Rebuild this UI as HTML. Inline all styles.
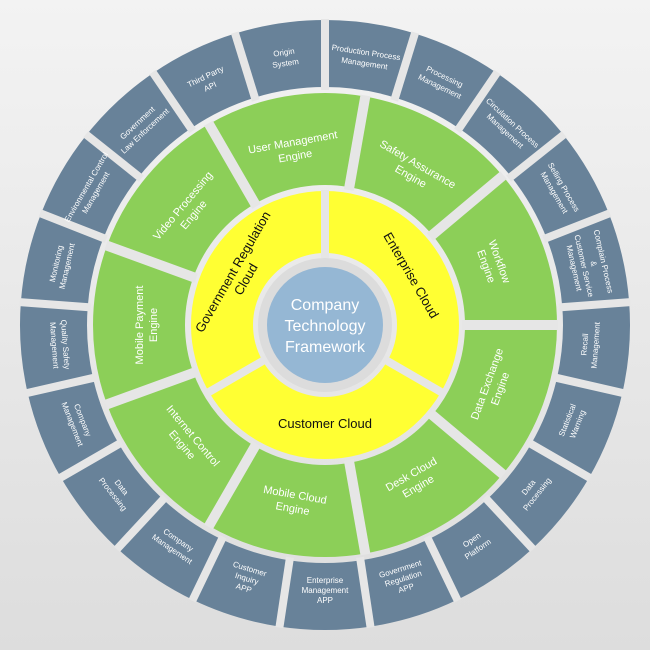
<!DOCTYPE html>
<html><head><meta charset="utf-8"><style>
html,body{margin:0;padding:0;width:650px;height:650px;overflow:hidden;background:linear-gradient(#f3f3f3,#dddddd);}
svg{display:block}
.o{font-family:"Liberation Sans",sans-serif;font-size:8px;fill:#fff;text-anchor:middle}
.g{font-family:"Liberation Sans",sans-serif;font-size:11px;fill:#fff;text-anchor:middle}
.y{font-family:"Liberation Sans",sans-serif;font-size:13px;fill:#111;text-anchor:middle}
</style></head><body>
<svg width="650" height="650" viewBox="0 0 650 650">
<defs>
<path id="ob" d="M279.55,23.4 A305,305 0 0 1 370.45,23.4 L360.47,89.67 A238,238 0 0 0 289.53,89.67 Z" fill="#688299"/>
<path id="gb" d="M245.65,107 A232,232 0 0 1 404.35,107 L372.88,193.44 A140,140 0 0 0 277.12,193.44 Z" fill="#8ccf58"/>
<path id="yb" d="M208.95,258 A134,134 0 0 1 441.05,258 L387.35,289 A72,72 0 0 0 262.65,289 Z" fill="#ffff33"/>
</defs>
<g>
<use href="#ob" transform="rotate(-8.57 325 325)"/><use href="#ob" transform="rotate(8.57 325 325)"/><use href="#ob" transform="rotate(25.71 325 325)"/><use href="#ob" transform="rotate(42.86 325 325)"/><use href="#ob" transform="rotate(60 325 325)"/><use href="#ob" transform="rotate(77.14 325 325)"/><use href="#ob" transform="rotate(94.29 325 325)"/><use href="#ob" transform="rotate(111.43 325 325)"/><use href="#ob" transform="rotate(128.57 325 325)"/><use href="#ob" transform="rotate(145.71 325 325)"/><use href="#ob" transform="rotate(162.86 325 325)"/><use href="#ob" transform="rotate(180 325 325)"/><use href="#ob" transform="rotate(197.14 325 325)"/><use href="#ob" transform="rotate(214.29 325 325)"/><use href="#ob" transform="rotate(231.43 325 325)"/><use href="#ob" transform="rotate(248.57 325 325)"/><use href="#ob" transform="rotate(265.71 325 325)"/><use href="#ob" transform="rotate(282.86 325 325)"/><use href="#ob" transform="rotate(300 325 325)"/><use href="#ob" transform="rotate(317.14 325 325)"/><use href="#ob" transform="rotate(334.29 325 325)"/>
</g>
<g stroke="#e6e6e6" stroke-width="8">
<line x1="325" y1="90" x2="325" y2="19" transform="rotate(0 325 325)"/><line x1="325" y1="90" x2="325" y2="19" transform="rotate(17.14 325 325)"/><line x1="325" y1="90" x2="325" y2="19" transform="rotate(34.29 325 325)"/><line x1="325" y1="90" x2="325" y2="19" transform="rotate(51.43 325 325)"/><line x1="325" y1="90" x2="325" y2="19" transform="rotate(68.57 325 325)"/><line x1="325" y1="90" x2="325" y2="19" transform="rotate(85.71 325 325)"/><line x1="325" y1="90" x2="325" y2="19" transform="rotate(102.86 325 325)"/><line x1="325" y1="90" x2="325" y2="19" transform="rotate(120 325 325)"/><line x1="325" y1="90" x2="325" y2="19" transform="rotate(137.14 325 325)"/><line x1="325" y1="90" x2="325" y2="19" transform="rotate(154.29 325 325)"/><line x1="325" y1="90" x2="325" y2="19" transform="rotate(171.43 325 325)"/><line x1="325" y1="90" x2="325" y2="19" transform="rotate(188.57 325 325)"/><line x1="325" y1="90" x2="325" y2="19" transform="rotate(205.71 325 325)"/><line x1="325" y1="90" x2="325" y2="19" transform="rotate(222.86 325 325)"/><line x1="325" y1="90" x2="325" y2="19" transform="rotate(240 325 325)"/><line x1="325" y1="90" x2="325" y2="19" transform="rotate(257.14 325 325)"/><line x1="325" y1="90" x2="325" y2="19" transform="rotate(274.29 325 325)"/><line x1="325" y1="90" x2="325" y2="19" transform="rotate(291.43 325 325)"/><line x1="325" y1="90" x2="325" y2="19" transform="rotate(308.57 325 325)"/><line x1="325" y1="90" x2="325" y2="19" transform="rotate(325.71 325 325)"/><line x1="325" y1="90" x2="325" y2="19" transform="rotate(342.86 325 325)"/>
</g>
<g class="o">
<g transform="rotate(-8.57 325 325)"><text x="325" y="52">Origin</text><text x="325" y="63">System</text></g>
<g transform="rotate(8.57 325 325)"><text x="325" y="52">Production Process</text><text x="325" y="63">Management</text></g>
<g transform="rotate(25.71 325 325)"><text x="325" y="52">Processing</text><text x="325" y="63">Management</text></g>
<g transform="rotate(42.86 325 325)"><text x="325" y="52">Circulation Process</text><text x="325" y="63">Management</text></g>
<g transform="rotate(60 325 325)"><text x="325" y="52">Selling Process</text><text x="325" y="63">Management</text></g>
<g transform="rotate(77.14 325 325)"><text x="325" y="42">Complain Process</text><text x="325" y="52">&amp;</text><text x="325" y="62">Customer Service</text><text x="325" y="72">Management</text></g>
<g transform="rotate(94.29 325 325) rotate(180 325 57)"><text x="325" y="52">Recall</text><text x="325" y="63">Management</text></g>
<g transform="rotate(111.43 325 325) rotate(180 325 57)"><text x="325" y="52">Statistical</text><text x="325" y="63">Warning</text></g>
<g transform="rotate(128.57 325 325) rotate(180 325 57)"><text x="325" y="52">Data</text><text x="325" y="63">Processing</text></g>
<g transform="rotate(145.71 325 325) rotate(180 325 57)"><text x="325" y="52">Open</text><text x="325" y="63">Platform</text></g>
<g transform="rotate(162.86 325 325) rotate(180 325 57)"><text x="325" y="47">Government</text><text x="325" y="57">Regulation</text><text x="325" y="67">APP</text></g>
<g transform="rotate(180 325 325) rotate(180 325 57)"><text x="325" y="47">Enterprise</text><text x="325" y="57">Management</text><text x="325" y="67">APP</text></g>
<g transform="rotate(197.14 325 325) rotate(180 325 57)"><text x="325" y="47">Customer</text><text x="325" y="57">Inquiry</text><text x="325" y="67">APP</text></g>
<g transform="rotate(214.29 325 325) rotate(180 325 57)"><text x="325" y="52">Company</text><text x="325" y="63">Management</text></g>
<g transform="rotate(231.43 325 325) rotate(180 325 57)"><text x="325" y="52">Data</text><text x="325" y="63">Processing</text></g>
<g transform="rotate(248.57 325 325) rotate(180 325 57)"><text x="325" y="52">Company</text><text x="325" y="63">Management</text></g>
<g transform="rotate(265.71 325 325) rotate(180 325 57)"><text x="325" y="52">Quality  Safety</text><text x="325" y="63">Management</text></g>
<g transform="rotate(282.86 325 325)"><text x="325" y="52">Monitoring</text><text x="325" y="63">Management</text></g>
<g transform="rotate(300 325 325)"><text x="325" y="52">Environmental Control</text><text x="325" y="63">Management</text></g>
<g transform="rotate(317.14 325 325)"><text x="325" y="52">Government</text><text x="325" y="63">Law Enforcement</text></g>
<g transform="rotate(334.29 325 325)"><text x="325" y="52">Third Party</text><text x="325" y="63">API</text></g>
</g>
<g>
<use href="#gb" transform="rotate(-10 325 325)"/><use href="#gb" transform="rotate(30 325 325)"/><use href="#gb" transform="rotate(70 325 325)"/><use href="#gb" transform="rotate(110 325 325)"/><use href="#gb" transform="rotate(150 325 325)"/><use href="#gb" transform="rotate(190 325 325)"/><use href="#gb" transform="rotate(230 325 325)"/><use href="#gb" transform="rotate(270 325 325)"/><use href="#gb" transform="rotate(310 325 325)"/>
</g>
<g stroke="#e6e6e6" stroke-width="10">
<line x1="325" y1="188" x2="325" y2="92" transform="rotate(10 325 325)"/><line x1="325" y1="188" x2="325" y2="92" transform="rotate(50 325 325)"/><line x1="325" y1="188" x2="325" y2="92" transform="rotate(90 325 325)"/><line x1="325" y1="188" x2="325" y2="92" transform="rotate(130 325 325)"/><line x1="325" y1="188" x2="325" y2="92" transform="rotate(170 325 325)"/><line x1="325" y1="188" x2="325" y2="92" transform="rotate(210 325 325)"/><line x1="325" y1="188" x2="325" y2="92" transform="rotate(250 325 325)"/><line x1="325" y1="188" x2="325" y2="92" transform="rotate(290 325 325)"/><line x1="325" y1="188" x2="325" y2="92" transform="rotate(330 325 325)"/>
</g>
<g class="g">
<g transform="rotate(-10 325 325)"><text x="325" y="143">User Management</text><text x="325" y="157">Engine</text></g>
<g transform="rotate(30 325 325)"><text x="325" y="143">Safety Assurance</text><text x="325" y="157">Engine</text></g>
<g transform="rotate(70 325 325)"><text x="325" y="143">Workflow</text><text x="325" y="157">Engine</text></g>
<g transform="rotate(110 325 325) rotate(180 325 146)"><text x="325" y="143">Data Exchange</text><text x="325" y="157">Engine</text></g>
<g transform="rotate(150 325 325) rotate(180 325 146)"><text x="325" y="143">Desk Cloud</text><text x="325" y="157">Engine</text></g>
<g transform="rotate(190 325 325) rotate(180 325 146)"><text x="325" y="143">Mobile Cloud</text><text x="325" y="157">Engine</text></g>
<g transform="rotate(230 325 325) rotate(180 325 146)"><text x="325" y="143">Internet Control</text><text x="325" y="157">Engine</text></g>
<g transform="rotate(270 325 325)"><text x="325" y="143">Mobile Payment</text><text x="325" y="157">Engine</text></g>
<g transform="rotate(310 325 325)"><text x="325" y="143">Video Processing</text><text x="325" y="157">Engine</text></g>
</g>
<use href="#yb" transform="rotate(60 325 325)"/><use href="#yb" transform="rotate(180 325 325)"/><use href="#yb" transform="rotate(300 325 325)"/>
<g stroke="#e6e6e6" stroke-width="8">
<line x1="325" y1="258" x2="325" y2="190"/><line x1="325" y1="258" x2="325" y2="190" transform="rotate(120 325 325)"/><line x1="325" y1="258" x2="325" y2="190" transform="rotate(240 325 325)"/>
</g>
<g class="y">
<g transform="rotate(60 325 325)"><text x="325" y="230">Enterprise Cloud</text></g>
<g transform="rotate(180 325 325) rotate(180 325 226)"><text x="325" y="230">Customer Cloud</text></g>
<g transform="rotate(300 325 325)"><text x="325" y="223">Government Regulation</text><text x="325" y="238">Cloud</text></g>
</g>
<circle cx="325" cy="325" r="67" fill="#dcdcdc"/>
<circle cx="325" cy="325" r="58" fill="#95b7d4"/>
<g font-family="Liberation Sans, sans-serif" font-size="16" fill="#fff" text-anchor="middle">
<text x="325" y="310">Company</text><text x="325" y="331">Technology</text><text x="325" y="352">Framework</text>
</g>
</svg>
</body></html>
